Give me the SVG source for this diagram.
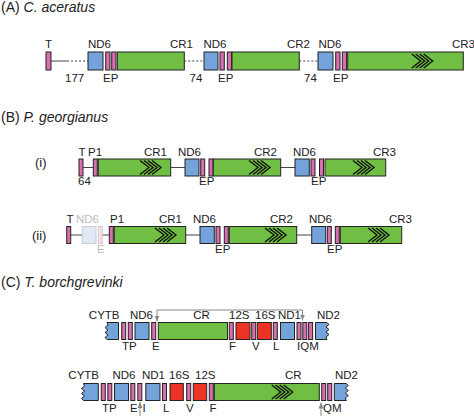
<svg xmlns="http://www.w3.org/2000/svg" xmlns:xlink="http://www.w3.org/1999/xlink" width="474" height="416" viewBox="0 0 474 416">
<style>
.b{fill:#74a2da;stroke:#222;stroke-width:1}
.p{fill:#d96fae;stroke:#222;stroke-width:1}
.g{fill:#70bf44;stroke:#222;stroke-width:1}
.r{fill:#ec3325;stroke:#222;stroke-width:1}
.fb{fill:#e0e9f5;stroke:#c8cfd9;stroke-width:1}
.fp{fill:#f3dfeb;stroke:#d6c8d0;stroke-width:1}
text{font-family:"Liberation Sans",Arial,sans-serif;font-size:11.5px;fill:#222}
.t{font-size:14px}
.n{font-size:13px}
.f{fill:#bdbdbd}
.ln{stroke:#444;stroke-width:1;fill:none}
.ds{stroke:#444;stroke-width:1;stroke-dasharray:2 2;fill:none}
.ar{stroke:#888;stroke-width:1;fill:none}
.ch{stroke:#111;stroke-width:1.4;fill:none}
</style>
<defs>
<marker id="ah" viewBox="0 0 6 6" refX="6" refY="3" markerWidth="6" markerHeight="6" orient="auto" markerUnits="userSpaceOnUse">
<path d="M0,0.5 L6,3 L0,5.5 Z" fill="#888"/>
</marker>
<g id="chev" class="ch">
<polyline points="0,1.5 9,8.5 0,15.5"/>
<polyline points="4,1.5 13,8.5 4,15.5"/>
<polyline points="8,1.5 17,8.5 8,15.5"/>
<polyline points="12,1.5 21,8.5 12,15.5"/>
</g>
</defs>

<!-- Titles -->
<text class="t" x="1" y="12">(A) <tspan font-style="italic">C. aceratus</tspan></text>
<text class="t" x="1" y="121.5">(B) <tspan font-style="italic">P. georgianus</tspan></text>
<text class="t" x="1" y="287">(C) <tspan font-style="italic">T. borchgrevinki</tspan></text>
<text class="n" x="35" y="166.5">(i)</text>
<text class="n" x="32" y="240">(ii)</text>

<!-- Connectors -->
<g id="connectors">
<path class="ln" d="M51,61 H67"/>
<path class="ds" d="M67,61 H88 M184.3,61 H204 M299.3,61 H318"/>
<path class="ln" d="M83,167.5 H93.3 M170.7,167.5 H185 M280.7,167.5 H295"/>
<path class="ln" d="M70.7,235 H82.3 M185.7,235 H200 M296.7,235 H311.7"/>
<path class="ln" d="M102.3,235 H109.3" stroke="#999"/>
<path class="ar" d="M157,321 V310 H302.5 V320.5" marker-end="url(#ah)"/>
<path class="ar" d="M157,316 V321.5" marker-end="url(#ah)"/>
<path class="ar" d="M140,416 V402" marker-end="url(#ah)"/>
<path class="ar" d="M321,416 V402.5" marker-end="url(#ah)"/>
</g>

<!-- (A) C. aceratus -->
<g id="A-T"><rect class="p" x="46" y="52" width="5" height="18"/><text x="48.5" y="48" text-anchor="middle">T</text><text x="65" y="82">177</text></g>
<g id="A-ND6-1"><rect class="b" x="88" y="52" width="15" height="18"/><text x="88" y="48">ND6</text></g>
<g id="A-EP-1"><rect class="p" x="105.7" y="52" width="4.3" height="18"/><rect class="p" x="111.7" y="52" width="4.3" height="18"/><text x="103" y="82">EP</text></g>
<g id="A-CR1"><rect class="g" x="117.3" y="52" width="67" height="18"/><text x="193" y="48" text-anchor="end">CR1</text><text x="196" y="82" text-anchor="middle">74</text></g>
<g id="A-ND6-2"><rect class="b" x="204" y="52" width="14" height="18"/><text x="203.5" y="48">ND6</text></g>
<g id="A-EP-2"><rect class="p" x="220" y="52" width="4.3" height="18"/><rect class="p" x="227.3" y="52" width="4.3" height="18"/><text x="218" y="82">EP</text></g>
<g id="A-CR2"><rect class="g" x="232" y="52" width="67.3" height="18"/><text x="310" y="48" text-anchor="end">CR2</text><text x="310.5" y="82" text-anchor="middle">74</text></g>
<g id="A-ND6-3"><rect class="b" x="318" y="52" width="15" height="18"/><text x="318.5" y="48">ND6</text></g>
<g id="A-EP-3"><rect class="p" x="335.7" y="52" width="4.3" height="18"/><rect class="p" x="342.3" y="52" width="4.3" height="18"/><text x="333" y="82">EP</text></g>
<g id="A-CR3"><rect class="g" x="347.7" y="52" width="115.6" height="18"/><use xlink:href="#chev" href="#chev" x="411.7" y="52.5"/><text x="475" y="48" text-anchor="end">CR3</text></g>

<!-- (B)(i) -->
<g id="Bi-T"><rect class="p" x="79" y="159" width="4" height="17"/><text x="78.5" y="156">T</text><text x="78" y="185">64</text></g>
<g id="Bi-P1"><rect class="p" x="93.3" y="159" width="4" height="17"/><text x="88" y="156">P1</text></g>
<g id="Bi-CR1"><rect class="g" x="98.3" y="159" width="72.4" height="17"/><use xlink:href="#chev" href="#chev" x="140" y="159"/><text x="167" y="156" text-anchor="end">CR1</text></g>
<g id="Bi-ND6-1"><rect class="b" x="185" y="159" width="14" height="17"/><text x="178" y="156">ND6</text></g>
<g id="Bi-EP-1"><rect class="p" x="200.7" y="159" width="4" height="17"/><rect class="p" x="209" y="159" width="4" height="17"/><text x="199" y="185">EP</text></g>
<g id="Bi-CR2"><rect class="g" x="213.3" y="159" width="67.4" height="17"/><use xlink:href="#chev" href="#chev" x="249" y="159"/><text x="277" y="156" text-anchor="end">CR2</text></g>
<g id="Bi-ND6-2"><rect class="b" x="295" y="159" width="14.3" height="17"/><text x="293" y="156">ND6</text></g>
<g id="Bi-EP-2"><rect class="p" x="311" y="159" width="4" height="17"/><rect class="p" x="319.5" y="159" width="4" height="17"/><text x="311" y="185">EP</text></g>
<g id="Bi-CR3"><rect class="g" x="325" y="159" width="60.7" height="17"/><use xlink:href="#chev" href="#chev" x="353" y="159"/><text x="396" y="156" text-anchor="end">CR3</text></g>

<!-- (B)(ii) -->
<g id="Bii-T"><rect class="p" x="66.7" y="226.5" width="4" height="17"/><text x="66.5" y="222.7">T</text></g>
<g id="Bii-ND6-lost"><rect class="fb" x="82.3" y="226.5" width="13.7" height="17"/><text class="f" x="76" y="222.7">ND6</text></g>
<g id="Bii-E-lost"><rect class="fp" x="98.3" y="226.5" width="4" height="17"/><text class="f" x="97" y="253.3">E</text></g>
<g id="Bii-P1"><rect class="p" x="109.3" y="226.5" width="4" height="17"/><text x="110" y="222.7">P1</text></g>
<g id="Bii-CR1"><rect class="g" x="114.3" y="226.5" width="71.4" height="17"/><use xlink:href="#chev" href="#chev" x="155" y="226.5"/><text x="182" y="222.7" text-anchor="end">CR1</text></g>
<g id="Bii-ND6-1"><rect class="b" x="200" y="226.5" width="14.3" height="17"/><text x="193" y="222.7">ND6</text></g>
<g id="Bii-EP-1"><rect class="p" x="216" y="226.5" width="4" height="17"/><rect class="p" x="224.3" y="226.5" width="4" height="17"/><text x="215" y="253.3">EP</text></g>
<g id="Bii-CR2"><rect class="g" x="229.3" y="226.5" width="67.4" height="17"/><use xlink:href="#chev" href="#chev" x="265" y="226.5"/><text x="293" y="222.7" text-anchor="end">CR2</text></g>
<g id="Bii-ND6-2"><rect class="b" x="311.7" y="226.5" width="14" height="17"/><text x="309" y="222.7">ND6</text></g>
<g id="Bii-EP-2"><rect class="p" x="327.3" y="226.5" width="4" height="17"/><rect class="p" x="335.3" y="226.5" width="4" height="17"/><text x="327" y="253.3">EP</text></g>
<g id="Bii-CR3"><rect class="g" x="340.3" y="226.5" width="61.4" height="17"/><use xlink:href="#chev" href="#chev" x="368" y="226.5"/><text x="412" y="222.7" text-anchor="end">CR3</text></g>

<!-- (C) row 1 -->
<g id="C1-CYTB"><path class="b" d="M107,322.5 H118.5 V339.5 H107 L105,337.5 L108,335 L105,332.5 L108,330 L105,327.5 L108,325 Z"/><text x="119.5" y="319" text-anchor="end">CYTB</text></g>
<g id="C1-TP"><rect class="p" x="121.7" y="322.5" width="4" height="17"/><rect class="p" x="128.3" y="322.5" width="4" height="17"/><text x="122" y="350">TP</text></g>
<g id="C1-ND6"><rect class="b" x="135" y="322.5" width="14" height="17"/><text x="130" y="319">ND6</text></g>
<g id="C1-E"><rect class="p" x="151.7" y="322.5" width="4" height="17"/><text x="152" y="350">E</text></g>
<g id="C1-CR"><rect class="g" x="158.3" y="322.5" width="69.2" height="17"/><text x="201.5" y="319" text-anchor="middle">CR</text></g>
<g id="C1-F"><rect class="p" x="229.3" y="322.5" width="4" height="17"/><text x="229" y="350">F</text></g>
<g id="C1-12S"><rect class="r" x="236" y="322.5" width="14" height="17"/><text x="229" y="319">12S</text></g>
<g id="C1-V"><rect class="p" x="251.7" y="322.5" width="4" height="17"/><text x="252" y="350">V</text></g>
<g id="C1-16S"><rect class="r" x="257.3" y="322.5" width="14" height="17"/><text x="255" y="319">16S</text></g>
<g id="C1-L"><rect class="p" x="273.3" y="322.5" width="4" height="17"/><text x="273" y="350">L</text></g>
<g id="C1-ND1"><rect class="b" x="280.5" y="322.5" width="14" height="17"/><text x="278" y="319">ND1</text></g>
<g id="C1-IQM"><rect class="p" x="297" y="322.5" width="4" height="17"/><rect class="p" x="302.8" y="322.5" width="4" height="17"/><rect class="p" x="308.6" y="322.5" width="4" height="17"/><text x="297" y="350">IQM</text></g>
<g id="C1-ND2"><path class="b" d="M315.5,322.5 H327 L329,324.5 L326,327 L329,329.5 L326,332 L329,334.5 L326,337 L327,339.5 H315.5 Z"/><text x="317" y="319">ND2</text></g>

<!-- (C) row 2 -->
<g id="C2-CYTB"><path class="b" d="M83.5,383.5 H98.3 V400.5 H83.5 L81.5,398.5 L84.5,396 L81.5,393.5 L84.5,391 L81.5,388.5 L84.5,386 Z"/><text x="99" y="379" text-anchor="end">CYTB</text></g>
<g id="C2-TP"><rect class="p" x="101.3" y="383.5" width="4" height="17"/><rect class="p" x="107.8" y="383.5" width="4" height="17"/><text x="102" y="411.5">TP</text></g>
<g id="C2-ND6"><rect class="b" x="114.5" y="383.5" width="14" height="17"/><text x="112.5" y="379">ND6</text></g>
<g id="C2-EI"><rect class="p" x="130.8" y="383.5" width="4" height="17"/><rect class="p" x="137.8" y="383.5" width="4" height="17"/><text x="130" y="411.5">E</text><text x="142.5" y="411.5">I</text></g>
<g id="C2-ND1"><rect class="b" x="145.8" y="383.5" width="14.2" height="17"/><text x="142" y="379">ND1</text></g>
<g id="C2-L"><rect class="p" x="162.5" y="383.5" width="4" height="17"/><text x="163" y="411.5">L</text></g>
<g id="C2-16S"><rect class="r" x="170" y="383.5" width="13.3" height="17"/><text x="169" y="379">16S</text></g>
<g id="C2-V"><rect class="p" x="186.7" y="383.5" width="4" height="17"/><text x="186" y="411.5">V</text></g>
<g id="C2-12S"><rect class="r" x="193.3" y="383.5" width="13.4" height="17"/><text x="195" y="379">12S</text></g>
<g id="C2-F"><rect class="p" x="209.3" y="383.5" width="4" height="17"/><text x="209.5" y="411.5">F</text></g>
<g id="C2-CR"><rect class="g" x="214.3" y="383.5" width="105" height="17"/><use xlink:href="#chev" href="#chev" x="271.7" y="383.5"/><text x="285" y="379">CR</text></g>
<g id="C2-QM"><rect class="p" x="321.7" y="383.5" width="4" height="17"/><rect class="p" x="327.7" y="383.5" width="4" height="17"/><text x="323" y="411.5">QM</text></g>
<g id="C2-ND2"><path class="b" d="M334.3,383.5 H346.3 L348.3,385.5 L345.3,388 L348.3,390.5 L345.3,393 L348.3,395.5 L345.3,398 L346.3,400.5 H334.3 Z"/><text x="335" y="379">ND2</text></g>
</svg>
